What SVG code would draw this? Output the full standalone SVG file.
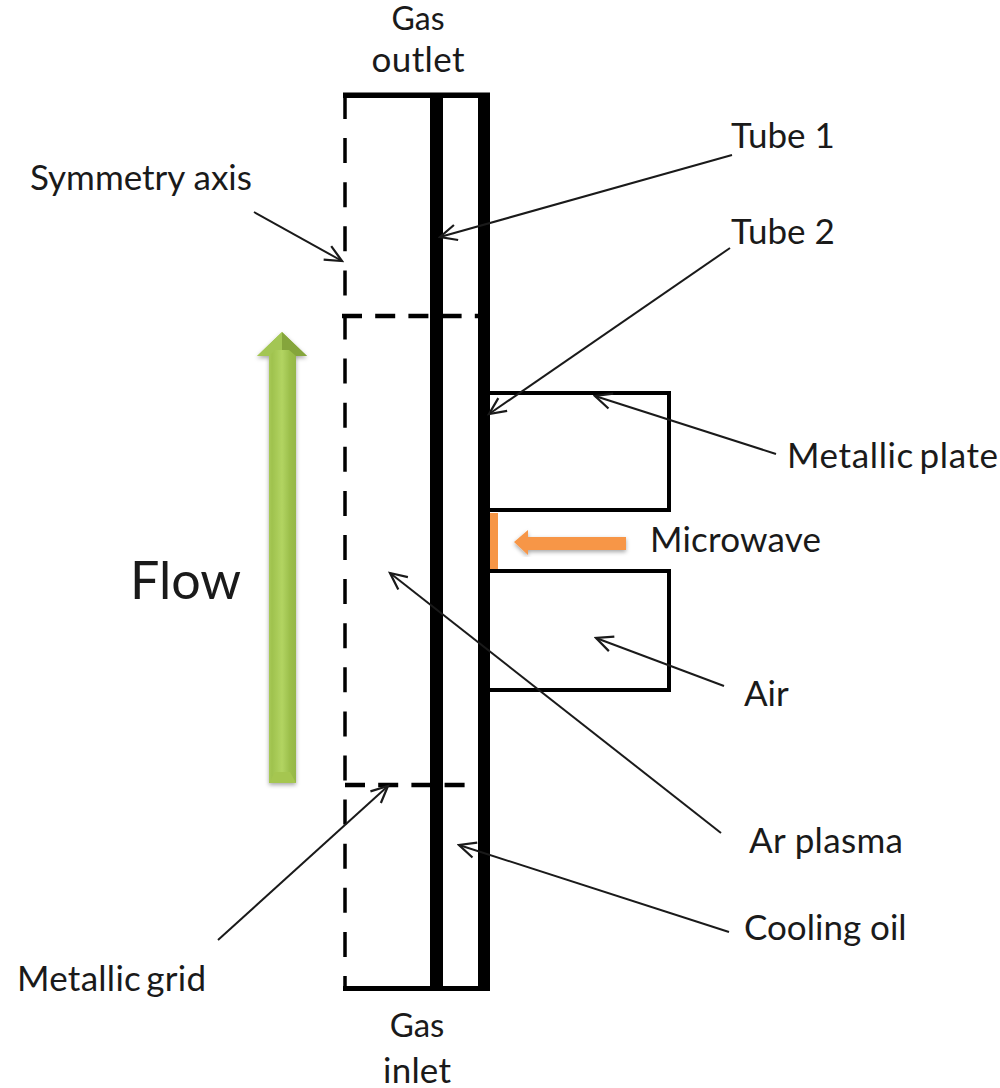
<svg xmlns="http://www.w3.org/2000/svg" width="1000" height="1088" viewBox="0 0 1000 1088">
<style>
text{font-family:"Lato","Carlito","Liberation Sans",sans-serif;font-size:35px;fill:#1a1a1a}
.m{text-anchor:middle}
.lead{fill:none;stroke:#1a1a1a;stroke-width:2;marker-end:url(#open)}
.s{fill:none;stroke:#000;stroke-width:4}
.d{fill:none;stroke:#000;stroke-width:3.5}
.g{fill:none;stroke:#000;stroke-width:4.5}
</style>
<defs>
<marker id="open" markerUnits="userSpaceOnUse" markerWidth="20" markerHeight="20" refX="16" refY="8" orient="auto" viewBox="0 0 18 16"><path d="M1 1L16 8L1 15" fill="none" stroke="#1a1a1a" stroke-width="2"/></marker>
<linearGradient id="g" x1="0" x2="1" y1="0" y2="0"><stop offset="0" stop-color="#c3de74"/><stop offset=".18" stop-color="#b2d25e"/><stop offset=".3" stop-color="#9fc24e"/><stop offset=".5" stop-color="#b2d462"/><stop offset=".65" stop-color="#9dc04c"/><stop offset=".9" stop-color="#8dae43"/><stop offset="1" stop-color="#7f9f38"/></linearGradient>
<filter id="sh" x="-30%" y="-5%" width="160%" height="110%"><feDropShadow dx="0" dy="2" stdDeviation="2" flood-color="#000" flood-opacity=".35"/></filter>
</defs>
<g id="symmetry-axis"><path class="d" stroke-dasharray="25 19.1" d="M345 94V990"/></g>
<g id="chamber"><path fill="#000" d="M343 92.500H490V98H343ZM343 986H490V991H343Z"/></g>
<g id="tube-1"><rect x="430" y="93" width="13" height="898" fill="#000"/></g>
<g id="tube-2"><rect x="478" y="93" width="12" height="898" fill="#000"/></g>
<g id="metallic-grid-top"><path class="g" stroke-dasharray="20 13.2" d="M342 316H480"/></g>
<g id="metallic-grid-bottom"><path class="g" stroke-dasharray="20 13.2" d="M345 785H465"/></g>
<g id="metallic-plate"><path class="s" d="M488 393H669V510H488"/></g>
<g id="air"><path class="s" d="M490 571H669V690H488"/></g>
<g id="microwave-window"><rect x="490" y="513" width="8" height="56" fill="#f79646"/></g>
<g id="microwave-arrow"><path d="M514 542L528 530V537H626V550H528V555Z" fill="#f79646" filter="url(#sh)"/></g>
<g id="flow-arrow"><path d="M282 332L307 356H296V783H269V356H257Z" fill="url(#g)" filter="url(#sh)"/><path d="M282 332L257 356H269L275 350H282Z" fill="#a3c654"/><path d="M282 332L307 356H296L289 350H282Z" fill="#85a53c"/><path d="M269 783L275 772H290L296 783Z" fill="#a5c650"/></g>
<g id="connectors">
<path class="lead" d="M732 155L440 237"/>
<path class="lead" d="M254 212L342 261"/>
<path class="lead" d="M730 248L489 414"/>
<path class="lead" d="M776 454L595 396"/>
<path class="lead" d="M724 686L596 638"/>
<path class="lead" d="M721 833L390 573"/>
<path class="lead" d="M729 932L459 845"/>
<path class="lead" d="M218 940L388 786"/>
</g>
<g id="labels">
<text class="m" x="418" y="30" style="font-size:32px">Gas</text>
<text class="m" x="418" y="72" textLength="93">outlet</text>
<text x="731" y="148">Tube 1</text>
<text x="30" y="190">Symmetry axis</text>
<text x="731" y="244">Tube 2</text>
<text x="787" y="468" textLength="211" style="word-spacing:-4px">Metallic plate</text>
<text x="650" y="552" textLength="171">Microwave</text>
<text x="130" y="599" style="font-size:52px">Flow</text>
<text x="744" y="706">Air</text>
<text x="749" y="853" textLength="154">Ar plasma</text>
<text x="744" y="940">Cooling oil</text>
<text x="17" y="991" style="word-spacing:-4px" textLength="189">Metallic grid</text>
<text class="m" x="417" y="1037" style="font-size:33px">Gas</text>
<text class="m" x="417" y="1083" textLength="68">inlet</text>
</g>
</svg>
